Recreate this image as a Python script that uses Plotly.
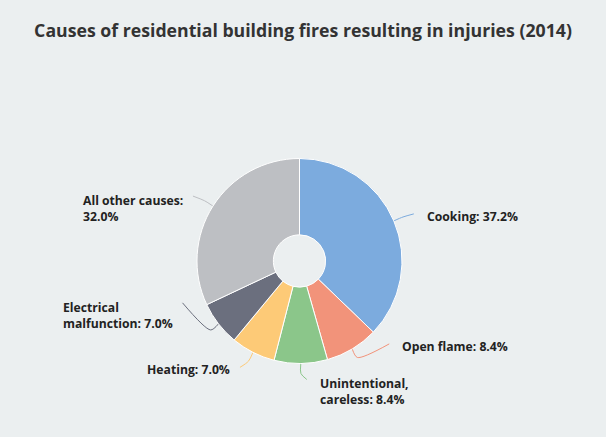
import numpy as np
import plotly.graph_objects as go

# data
causes = ["Cooking", "Open flame", "Unintentional, careless", "Heating",
          "Electrical malfunction", "All other causes"]
shares = [37.2, 8.4, 8.4, 7.0, 7.0, 32.0]
label_lines = ["Cooking: {v}", "Open flame: {v}", "Unintentional,<br>careless: {v}",
               "Heating: {v}", "Electrical<br>malfunction: {v}", "All other causes:<br>{v}"]
colors = ["#7cabde", "#f2937a", "#8bc68a", "#fdca77", "#6b6f7e", "#bdbfc3"]

W, H = 606, 437
BG = "#ebeff0"
cx, cy, r = 299.5, 261, 102.5  # pie centre / radius in px
# where each connector ends, relative to its slice edge point (px)
label_offset = [(20, -7), (37, -5), (6, 16), (-13, 15), (-36, -21), (-20, -10)]

fig = go.Figure()
fig.add_trace(go.Pie(
    labels=causes, values=shares, sort=False, direction="clockwise", rotation=0,
    hole=0.255, marker=dict(colors=colors, line=dict(color="white", width=1)),
    textinfo="none", hoverinfo="label+percent", showlegend=False,
    domain=dict(x=[(cx - r) / W, (cx + r) / W], y=[1 - (cy + r) / H, 1 - (cy - r) / H]),
))

# connectors + labels, from the slice mid angles
total = sum(shares)
cum = np.cumsum([0] + shares[:-1])
for i, v in enumerate(shares):
    ang = np.radians((cum[i] + v / 2) / total * 360)
    sx, sy = np.sin(ang), -np.cos(ang)
    ex, ey = cx + r * sx, cy + r * sy
    bx, by = cx + (r + 10) * sx, cy + (r + 10) * sy
    tx, ty = ex + label_offset[i][0], ey + label_offset[i][1]
    fig.add_trace(go.Scatter(
        x=[ex, bx, tx], y=[ey, by, ty], mode="lines",
        line=dict(color=colors[i], width=1, shape="spline", smoothing=0.8),
        hoverinfo="skip", showlegend=False,
    ))
    right = tx > cx
    multi = "<br>" in label_lines[i]
    fig.add_annotation(
        x=tx + (11 if right else -8), y=ty - (6 if multi else 8), xref="x", yref="y",
        text="<b>" + label_lines[i].format(v=f"{v:.1f}%") + "</b>",
        showarrow=False, xanchor="left" if right else "right", yanchor="top",
        align="left", font=dict(family="Open Sans", size=12.2, color="#222222"),
    )

fig.update_layout(
    width=W, height=H, margin=dict(l=0, r=0, t=0, b=0),
    paper_bgcolor=BG, plot_bgcolor=BG,
    title=dict(text="<b>Causes of residential building fires resulting in injuries (2014)</b>",
               x=0.5, xanchor="center", y=1 - 31 / H, yanchor="middle",
               font=dict(family="Open Sans", size=17.7, color="#333333")),
    xaxis=dict(range=[0, W], visible=False, fixedrange=True),
    yaxis=dict(range=[H, 0], visible=False, fixedrange=True),
)

# drop the default page margin so the figure fills the window
fig.write_html("out.html", config={"displayModeBar": False},
               post_script="document.body.style.margin='0';document.body.style.background='%s';" % BG)
